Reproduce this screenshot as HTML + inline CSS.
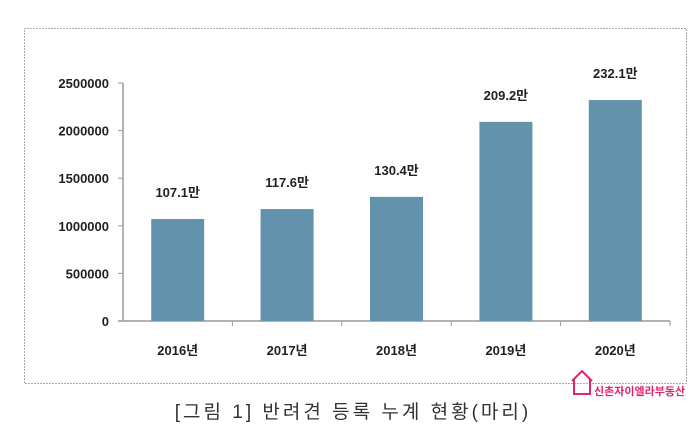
<!DOCTYPE html>
<html><head><meta charset="utf-8"><style>
body{margin:0;background:#fff;width:700px;height:425px;overflow:hidden;font-family:"Liberation Sans","Noto Sans CJK KR",sans-serif}
</style></head><body>
<svg width="700" height="425" style="position:absolute;left:0;top:0">
<rect x="24.5" y="28.5" width="662" height="355" fill="none" stroke="#555" stroke-dasharray="1,2"/>
<g id="g"></g>
<g>
<path d="M572 381 L582 371 L592 381 M574 379 L574 394 L590 394 L590 379" fill="none" stroke="#e2246f" stroke-width="2"/>
<text x="594" y="395" font-size="11" font-weight="bold" fill="#e2246f">신촌자이엘라부동산</text>
</g>
<text x="353" y="418" text-anchor="middle" font-size="19" letter-spacing="3" fill="#333">[그림 1] 반려견 등록 누계 현황(마리)</text>
</svg>
<script>
const categories=["2016년","2017년","2018년","2019년","2020년"];
const values=[1071000,1176000,1304000,2092000,2321000];
const valueLabels=["107.1만","117.6만","130.4만","209.2만","232.1만"];
const ticks=[0,500000,1000000,1500000,2000000,2500000];
const x0=123,x1=670,yb=321,yt=83,max=2500000;
const y=v=>yb-(v/max)*(yb-yt);
const bw=(x1-x0)/categories.length;
const g=document.getElementById('g');
const NS="http://www.w3.org/2000/svg";
function mk(t,a){const e=document.createElementNS(NS,t);for(const k in a)e.setAttribute(k,a[k]);g.appendChild(e);return e;}
let ax=mk('line',{x1:x0,y1:yt,x2:x0,y2:yb,stroke:'#999','stroke-width':1.5});


let bx=mk('line',{x1:x0-5,y1:yb,x2:x1,y2:yb,stroke:'#999','stroke-width':1.5});


ticks.forEach(t=>{
 mk('line',{x1:x0-5,y1:y(t),x2:x0,y2:y(t),stroke:'#999'});
 const e=mk('text',{x:x0-14,y:y(t)+5,'text-anchor':'end','font-size':13,'font-weight':'bold',fill:'#222'});
 e.textContent=t;
 
 
});
categories.forEach((c,i)=>{
 const cx=x0+bw*(i+0.5);
 mk('line',{x1:x0+bw*(i+1),y1:yb,x2:x0+bw*(i+1),y2:yb+5,stroke:'#999'});
 const r=mk('rect',{x:cx-26.5,y:y(values[i]),width:53,height:yb-y(values[i]),fill:'#6393ac'});
 
 
 const l=mk('text',{x:cx,y:y(values[i])-22,'text-anchor':'middle','font-size':13,'font-weight':'bold',fill:'#222'});
 l.textContent=valueLabels[i];
 
 
 const xl=mk('text',{x:cx,y:355,'text-anchor':'middle','font-size':13,'font-weight':'bold',fill:'#222'});
 xl.textContent=c;
 
 
});
</script>
</body></html>
